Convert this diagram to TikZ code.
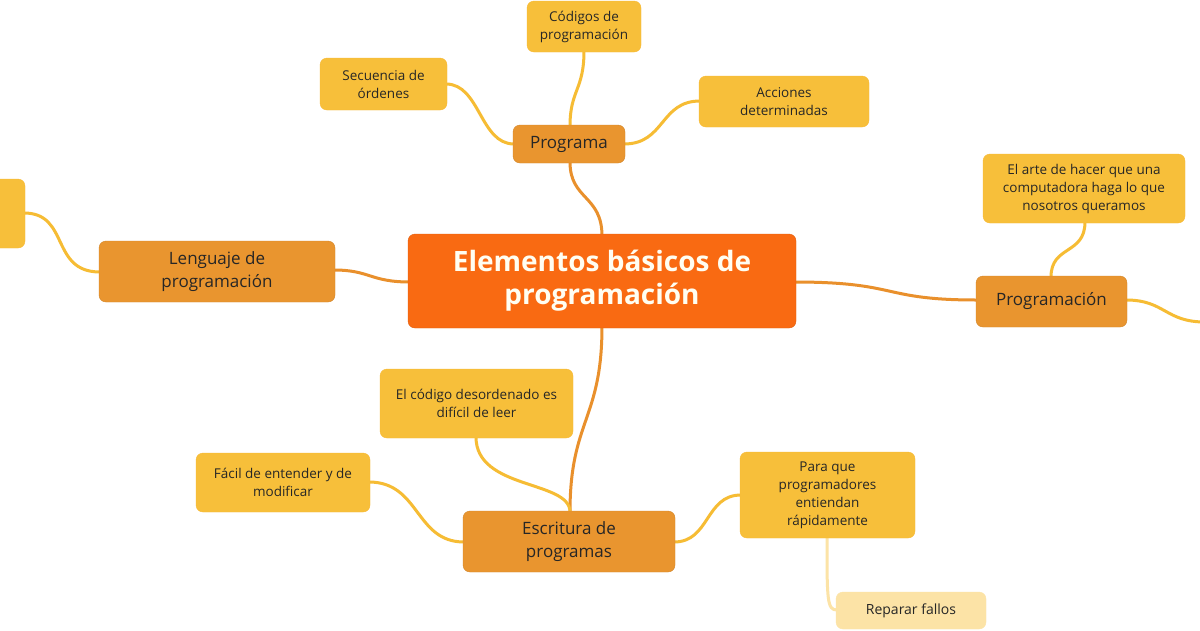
\documentclass[tikz,border=0pt]{standalone}
\usepackage{fontspec}
\setmainfont{Open Sans}
\begin{document}
\begin{tikzpicture}[x=1pt,y=-1pt,
 box/.style={rounded corners=7pt,inner sep=0pt,align=center,text=black!85},
 cen/.style={box,fill=cen,draw=cen!90!black,font=\fontsize{28}{33}\selectfont\bfseries,text=white!95!yellow},
 main/.style={box,fill=mainc,draw=mainc!90!black,font=\fontsize{17}{23}\selectfont},
 leaf/.style={box,fill=leafc,draw=leafc!90!orange,font=\fontsize{13.5}{18}\selectfont},
 pale/.style={box,fill=palec,draw=palec,font=\fontsize{14}{18}\selectfont},
 lk/.style={line width=3pt,line cap=round},
 ok/.style={lk,draw=linko},
 yk/.style={lk,draw=linky},
 pk/.style={lk,draw=palec}]
\definecolor{cen}{HTML}{F96A12}
\definecolor{mainc}{HTML}{E9952F}
\definecolor{leafc}{HTML}{F7BF3A}
\definecolor{palec}{HTML}{FCE3A6}
\definecolor{linko}{HTML}{E9902C}
\definecolor{linky}{HTML}{F6BC34}
\fill[white] (0,0) rectangle (1200,630);
\useasboundingbox (0,0) rectangle (1200,630);
\clip (0,0) rectangle (1200,630);
% coordinates for connector points
\coordinate (cT) at (602,236); \coordinate (cB) at (602,326);
\coordinate (cL) at (410,282); \coordinate (cR) at (794,282);
\coordinate (pB) at (570,162); \coordinate (pT) at (570,126);
\coordinate (pL) at (514,144); \coordinate (pR) at (624,144);
\coordinate (kB) at (584,51); \coordinate (sR) at (446,84); \coordinate (aL) at (700,101);
\coordinate (lR) at (334,270); \coordinate (lL) at (100,272); \coordinate (xR) at (24,213);
\coordinate (gL) at (977,300); \coordinate (gT) at (1051,277); \coordinate (gR) at (1126,300);
\coordinate (eB) at (1085,222); \coordinate (off) at (1205,322);
\coordinate (wT) at (570,512); \coordinate (wL) at (464,542); \coordinate (wR) at (674,542);
\coordinate (dB) at (476,437); \coordinate (fR) at (369,482); \coordinate (qL) at (741,495);
\coordinate (qB) at (827,537); \coordinate (rL) at (837,610);
% connectors
\draw[ok] (cT) .. controls (602,195) and (570,200) .. (pB);
\draw[ok] (cL) .. controls (370,282) and (370,270) .. (lR);
\draw[ok] (cR) .. controls (900,282) and (880,300) .. (gL);
\draw[ok] (cB) .. controls (602,420) and (570,420) .. (wT);
\draw[yk] (pT) .. controls (570,90) and (584,90) .. (kB);
\draw[yk] (pL) .. controls (480,144) and (480,84) .. (sR);
\draw[yk] (pR) .. controls (665,144) and (660,101) .. (aL);
\draw[yk] (lL) .. controls (50,272) and (70,213) .. (xR);
\draw[yk] (gT) .. controls (1051,245) and (1085,255) .. (eB);
\draw[yk] (gR) .. controls (1165,300) and (1165,322) .. (off);
\draw[yk] (wT) .. controls (570,480) and (476,490) .. (dB);
\draw[yk] (wL) .. controls (415,542) and (420,482) .. (fR);
\draw[yk] (wR) .. controls (710,542) and (705,495) .. (qL);
\draw[pk] (qB) .. controls (827,600) and (827,610) .. (rL);
% nodes
\node[cen,minimum width=388pt,minimum height=94pt] (c) at (602,281) {Elementos básicos de\\programación};
\node[main,minimum width=112pt,minimum height=38pt] (p) at (569,144) {Programa};
\node[leaf,minimum width=114pt,minimum height=51pt] (k) at (584,26.5) {Códigos de\\programación};
\node[leaf,minimum width=127pt,minimum height=52pt] (s) at (383.5,84) {Secuencia de\\órdenes};
\node[leaf,minimum width=170pt,minimum height=51pt] (a) at (784,101.5) {Acciones\\determinadas};
\node[main,minimum width=236pt,minimum height=61pt] (l) at (217,271.5) {Lenguaje de\\programación};
\node[leaf,minimum width=85pt,minimum height=69pt] (x) at (-17.5,213.5) {};
\node[main,minimum width=151pt,minimum height=51pt] (g) at (1051.5,301.5) {Programación};
\node[leaf,minimum width=202pt,minimum height=69pt] (e) at (1084,188.5) {El arte de hacer que una\\computadora haga lo que\\nosotros queramos};
\node[main,minimum width=212pt,minimum height=61pt] (w) at (569,541.5) {Escritura de\\programas};
\node[leaf,minimum width=193pt,minimum height=69pt] (d) at (476.5,403.5) {El código desordenado es\\difícil de leer};
\node[leaf,minimum width=174pt,minimum height=59pt] (f) at (283,482.5) {Fácil de entender y de\\modificar};
\node[leaf,minimum width=175pt,minimum height=86pt] (q) at (827.5,495) {Para que\\programadores\\entiendan\\rápidamente};
\node[pale,minimum width=150pt,minimum height=37pt] (r) at (911,610.5) {Reparar fallos};
\end{tikzpicture}
\end{document}
